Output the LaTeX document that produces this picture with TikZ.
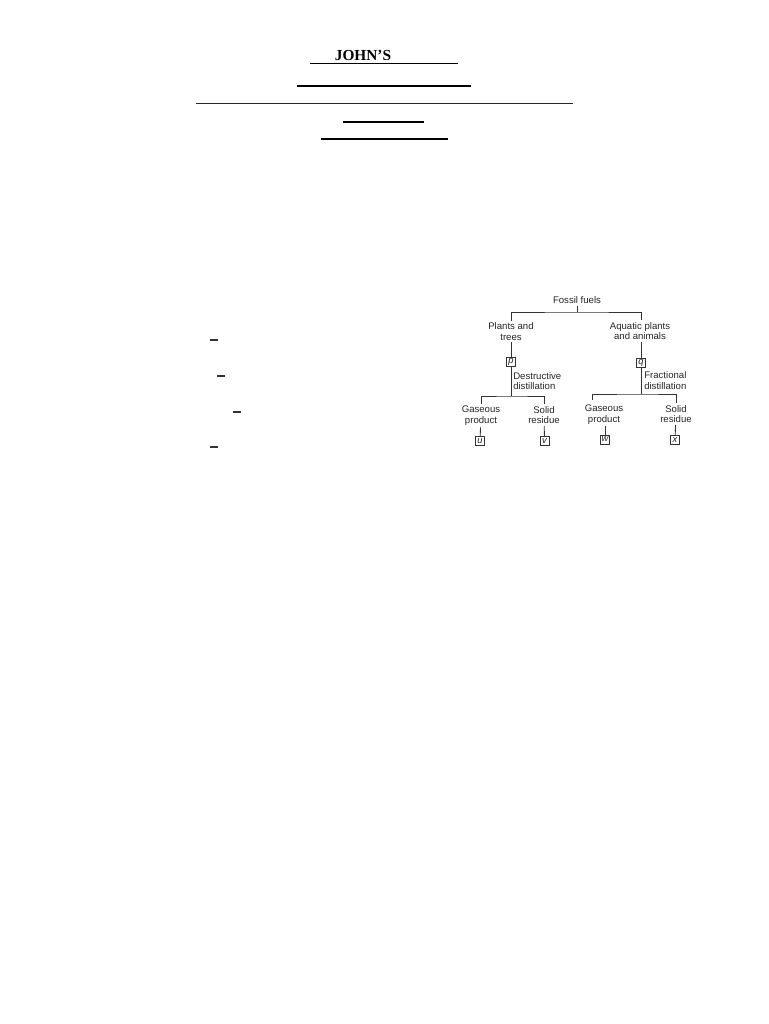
\documentclass[tikz,border=0pt]{standalone}
\usepackage{fontspec}
\setmainfont{Liberation Serif}
\newfontfamily\diagfont{Liberation Sans}
\usetikzlibrary{positioning}

\begin{document}
\begin{tikzpicture}[x=0.75pt, y=-0.75pt,
    label text/.style={font=\diagfont\fontsize{7.2}{7.8}\selectfont,
      text=black!85, align=center, inner sep=1.5pt},
    side text/.style={label text, align=left, anchor=west},
    letter box/.style={draw=black!80, line width=0.65pt, minimum size=6.8pt,
      inner sep=0pt, text=black!85,
      font=\diagfont\itshape\fontsize{7}{7}\selectfont},
    branch/.style={draw=black!80, line width=0.65pt},
    rule/.style={line width=0.9pt}]
  \useasboundingbox[fill=white] (0,0) rectangle (768,1024);

  % heading
  \node[font=\bfseries\fontsize{11.5}{13}\selectfont, anchor=base,
    inner sep=0pt] (name) at (363,61) {JOHN’S};
  \draw[rule] (310,63.5) -- (458,63.5);
  \draw[rule] (297,86) -- (471,86);
  \draw[rule, line width=0.8pt, black!85] (196,103.3) -- (573,103.3);
  \draw[rule, line width=1.5pt] (343,121.7) -- (424,121.7);
  \draw[rule, line width=1.2pt] (321,139) -- (448,139);

  % short marks on the left
  \draw[line width=1pt, black!80] (210,340) -- (218,340);
  \draw[line width=1pt, black!80] (217,376) -- (225,376);
  \draw[line width=1pt, black!80] (233,412) -- (241,412);
  \draw[line width=1pt, black!80] (210,447) -- (218,447);

  % fossil fuel tree
  \node[label text] (fossil) at (577,300.5) {Fossil fuels};
  \node[label text] (plants) at (511,331.5) {Plants and\\trees};
  \node[label text] (aquatic) at (640,331) {Aquatic plants\\and animals};
  \node[letter box] (p) at (511,361.5) {p};
  \node[letter box] (q) at (641,362.5) {q};
  \node[side text] (destr) at (511,381) {Destructive\\distillation};
  \node[side text] (fract) at (642,380.5) {Fractional\\distillation};
  \node[label text] (gas1) at (481,415.5) {Gaseous\\product};
  \node[label text] (solid1) at (544,415) {Solid\\residue};
  \node[label text] (gas2) at (604,414.5) {Gaseous\\product};
  \node[label text] (solid2) at (676,414) {Solid\\residue};
  \node[letter box] (u) at (480,441) {u};
  \node[letter box] (v) at (544.5,441) {v};
  \node[letter box] (w) at (605,439.5) {w};
  \node[letter box] (xb) at (675,440) {x};

  \coordinate (fj) at (577,312);
  \coordinate (pj) at (511,396);
  \coordinate (qj) at (641,394);
  \coordinate (qleft) at (592,399.5);

  \draw[branch] (fossil) -- (fj);
  \draw[branch] (plants.north) |- (fj) -| (q |- aquatic.north);
  \draw[branch] (plants) -- (p);
  \draw[branch] (q |- aquatic.south) -- (q);
  \draw[branch] (p) -- (pj);
  \draw[branch] (gas1.north) |- (pj) -| (solid1.north);
  \draw[branch] (q) -- (qj);
  \draw[branch] (qleft) |- (qj) -| (solid2.north);
  \draw[branch] (gas1) -- (u);
  \draw[branch] (solid1) -- (v);
  \draw[branch] (w |- gas2.south) -- (w);
  \draw[branch] (solid2) -- (xb);
\end{tikzpicture}
\end{document}
